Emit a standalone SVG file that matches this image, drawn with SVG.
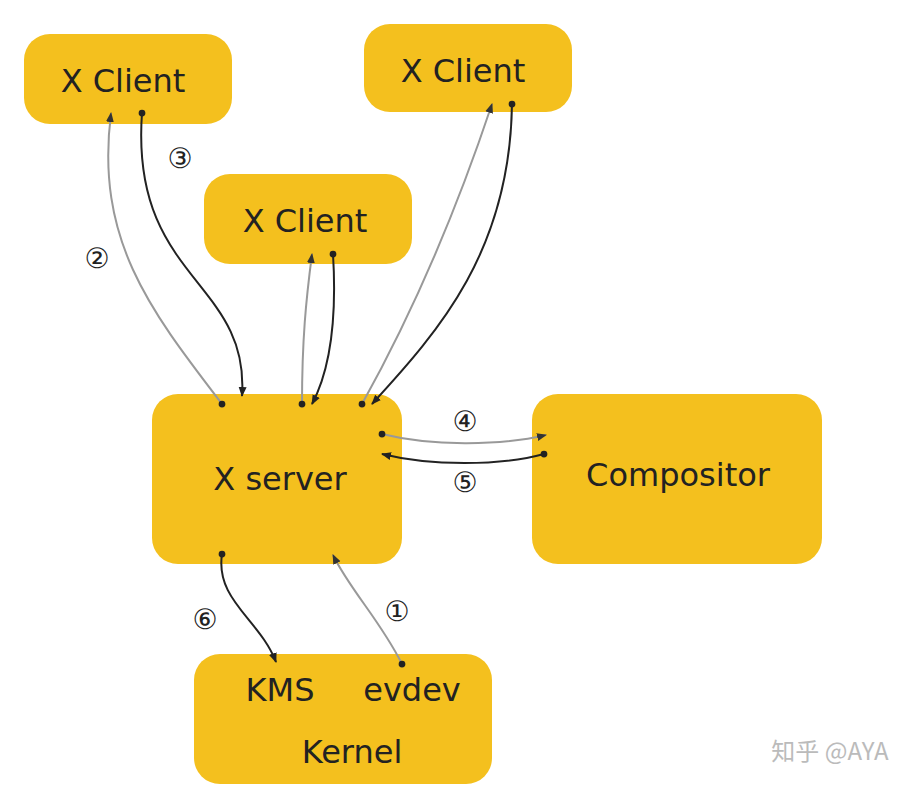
<svg xmlns="http://www.w3.org/2000/svg" width="924" height="791" viewBox="0 0 924 791">
<style>
.box{fill:#f4c01e}
.t{font-family:"DejaVu Sans",sans-serif;font-size:32px;fill:#222;text-anchor:middle}
.n{font-family:"DejaVu Sans",sans-serif;font-size:28px;fill:#222;text-anchor:middle}
.g{fill:none;stroke:#999;stroke-width:2;marker-end:url(#ag);marker-start:url(#dot)}
.k{fill:none;stroke:#222;stroke-width:2;marker-end:url(#ak);marker-start:url(#dot)}
</style>
<defs>
<marker id="ag" viewBox="0 0 10 10" refX="9" refY="5" markerWidth="10" markerHeight="10" orient="auto" markerUnits="userSpaceOnUse"><path d="M0,1L10,5L0,9z" fill="#333"/></marker>
<marker id="ak" viewBox="0 0 10 10" refX="9" refY="5" markerWidth="10" markerHeight="10" orient="auto" markerUnits="userSpaceOnUse"><path d="M0,1L10,5L0,9z" fill="#222"/></marker>
<marker id="dot" viewBox="-6 -6 12 12" refX="0" refY="0" markerWidth="9" markerHeight="9" overflow="visible" markerUnits="userSpaceOnUse"><circle cx="0" cy="0" r="4.5" fill="#222"/></marker>
</defs>
<rect width="924" height="791" fill="#fff"/>
<g id="client1"><rect class="box" x="24" y="34" width="208" height="90" rx="26"/><text class="t" x="123" y="92">X Client</text></g>
<g id="client2"><rect class="box" x="364" y="24" width="208" height="88" rx="26"/><text class="t" x="463" y="82">X Client</text></g>
<g id="client3"><rect class="box" x="204" y="174" width="208" height="90" rx="26"/><text class="t" x="305" y="232">X Client</text></g>
<g id="xserver"><rect class="box" x="152" y="394" width="250" height="170" rx="26"/><text class="t" x="280" y="490">X server</text></g>
<g id="compositor"><rect class="box" x="532" y="394" width="290" height="170" rx="26"/><text class="t" x="678" y="486">Compositor</text></g>
<g id="kernel"><rect class="box" x="194" y="654" width="298" height="130" rx="26"/><text class="t" x="280" y="701">KMS</text><text class="t" x="412" y="701">evdev</text><text class="t" x="352" y="763">Kernel</text></g>
<g id="connectors">
<path class="g" d="M222,404 C150,310 95,240 111,113"/>
<path class="k" d="M142,113 C130,280 250,280 242,396"/>
<path class="g" d="M302,404 C302,340 306,300 312,254"/>
<path class="k" d="M333,254 C337,320 330,370 312,404"/>
<path class="g" d="M362,404 C420,300 460,200 492,104"/>
<path class="k" d="M512,104 C510,250 440,330 372,404"/>
<path class="g" d="M382,434 C430,446 500,446 546,435"/>
<path class="k" d="M544,454 C500,466 430,466 382,454"/>
<path class="k" d="M222,554 C215,600 260,620 276,662"/>
<path class="g" d="M402,664 C380,620 350,590 333,555"/>
</g>
<g id="labels">
<text class="n" x="180" y="168">③</text>
<text class="n" x="97" y="268">②</text>
<text class="n" x="465" y="431">④</text>
<text class="n" x="465" y="492">⑤</text>
<text class="n" x="205" y="629">⑥</text>
<text class="n" x="397" y="621">①</text>
</g>
<text x="830" y="760" font-family="'Noto Sans CJK SC',sans-serif" font-size="24" fill="#bbb" text-anchor="middle">知乎 @AYA</text>
</svg>
